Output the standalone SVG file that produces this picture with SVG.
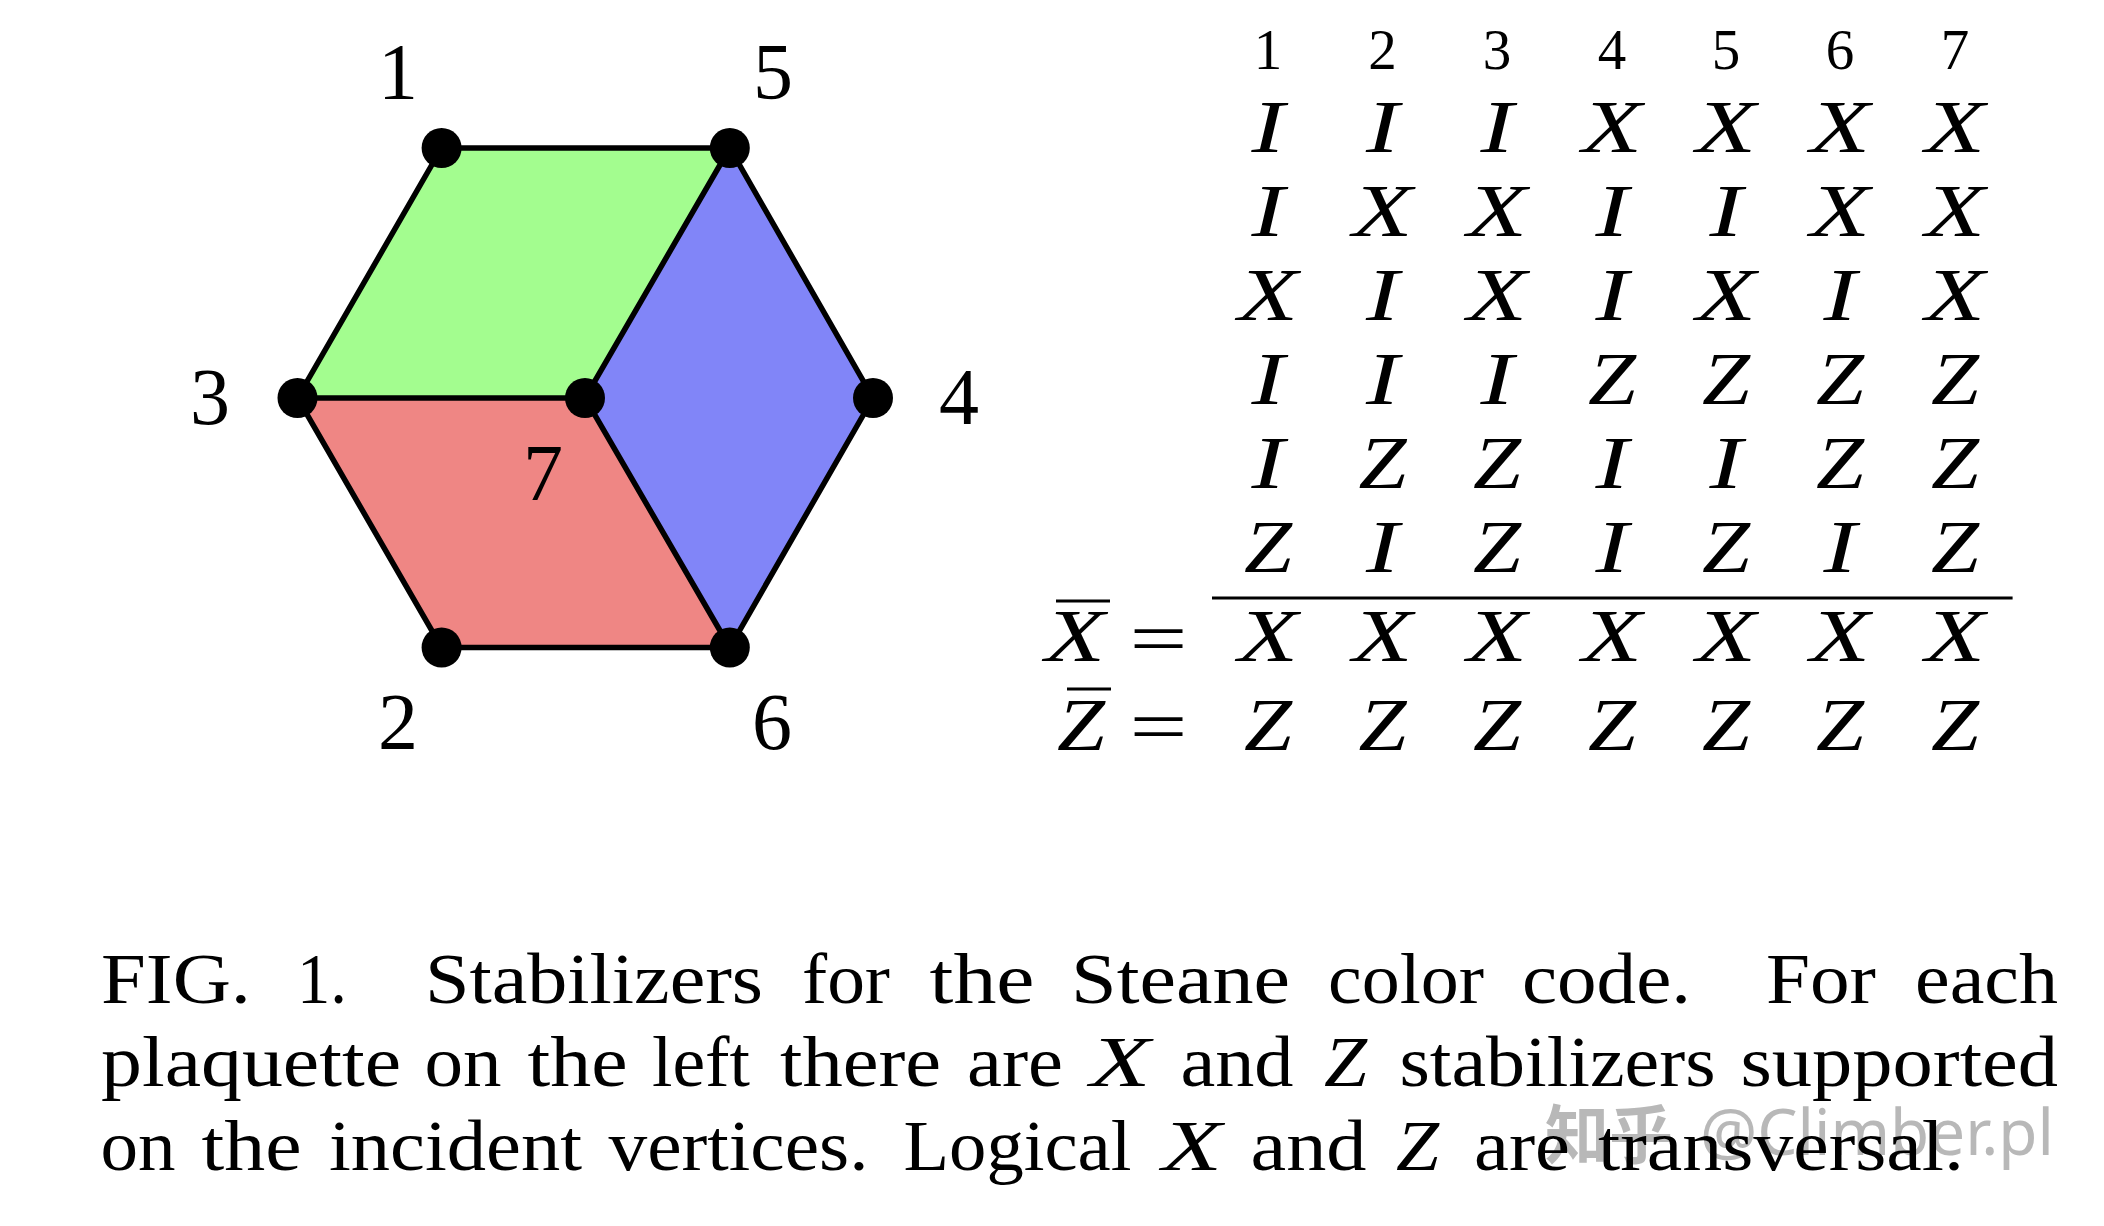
<svg xmlns="http://www.w3.org/2000/svg" width="2104" height="1226" viewBox="0 0 2104 1226">
<style>
text{font-family:"Liberation Serif","Noto Sans CJK SC",serif;fill:#000}
.lab{font-size:80px;text-anchor:middle}
.hd{font-size:57px;text-anchor:middle}
.m{font-size:73px;font-style:italic;text-anchor:middle}
.eq{font-size:73px;text-anchor:middle}
.cap{font-size:72px}
.em{font-style:italic}
.edge{stroke:#000;stroke-width:5.5;fill:none;stroke-linecap:round}
.rule{stroke:#000;stroke-width:3;fill:none}
.wm{font-family:"Noto Sans","Noto Sans CJK SC",sans-serif;font-size:64px;fill:#b8b8b8}
</style>
<rect width="2104" height="1226" fill="#fff"/>
<g id="faces">
<polygon points="441.6,148 729.8,148 585,398 297.5,398" fill="#a3fd8f"/>
<polygon points="729.8,148 873,398 729.8,647.5 585,398" fill="#8185f8"/>
<polygon points="297.5,398 585,398 729.8,647.5 441.6,647.5" fill="#ef8684"/>
</g>
<g id="connectors">
<path class="edge" d="M441.6 148H729.8L873 398L729.8 647.5H441.6L297.5 398Z"/>
<path class="edge" d="M297.5 398H585M729.8 148L585 398L729.8 647.5"/>
</g>
<g id="n1"><circle cx="441.6" cy="148" r="20"/><text class="lab" x="398" y="98.5">1</text></g>
<g id="n2"><circle cx="441.6" cy="647.5" r="20"/><text class="lab" x="398" y="748.5">2</text></g>
<g id="n3"><circle cx="297.5" cy="398" r="20"/><text class="lab" x="210" y="423.5">3</text></g>
<g id="n4"><circle cx="873" cy="398" r="20"/><text class="lab" x="959" y="423.5">4</text></g>
<g id="n5"><circle cx="729.8" cy="148" r="20"/><text class="lab" x="773" y="98.5">5</text></g>
<g id="n6"><circle cx="729.8" cy="647.5" r="20"/><text class="lab" x="772" y="748.5">6</text></g>
<g id="n7"><circle cx="585" cy="398" r="20"/><text class="lab" x="543" y="500">7</text></g>
<g id="table">
<text class="hd" x="1268" y="69">1</text><text class="hd" x="1382.5" y="69">2</text><text class="hd" x="1497" y="69">3</text><text class="hd" x="1612" y="69">4</text><text class="hd" x="1726" y="69">5</text><text class="hd" x="1840" y="69">6</text><text class="hd" x="1955" y="69">7</text>
<text class="m" x="1268" y="152" textLength="33" lengthAdjust="spacingAndGlyphs">I</text><text class="m" x="1382.5" y="152" textLength="33" lengthAdjust="spacingAndGlyphs">I</text><text class="m" x="1497" y="152" textLength="33" lengthAdjust="spacingAndGlyphs">I</text><text class="m" x="1612" y="152" textLength="60" lengthAdjust="spacingAndGlyphs">X</text><text class="m" x="1726" y="152" textLength="60" lengthAdjust="spacingAndGlyphs">X</text><text class="m" x="1840" y="152" textLength="60" lengthAdjust="spacingAndGlyphs">X</text><text class="m" x="1955" y="152" textLength="60" lengthAdjust="spacingAndGlyphs">X</text>
<text class="m" x="1268" y="236" textLength="33" lengthAdjust="spacingAndGlyphs">I</text><text class="m" x="1382.5" y="236" textLength="60" lengthAdjust="spacingAndGlyphs">X</text><text class="m" x="1497" y="236" textLength="60" lengthAdjust="spacingAndGlyphs">X</text><text class="m" x="1612" y="236" textLength="33" lengthAdjust="spacingAndGlyphs">I</text><text class="m" x="1726" y="236" textLength="33" lengthAdjust="spacingAndGlyphs">I</text><text class="m" x="1840" y="236" textLength="60" lengthAdjust="spacingAndGlyphs">X</text><text class="m" x="1955" y="236" textLength="60" lengthAdjust="spacingAndGlyphs">X</text>
<text class="m" x="1268" y="320" textLength="60" lengthAdjust="spacingAndGlyphs">X</text><text class="m" x="1382.5" y="320" textLength="33" lengthAdjust="spacingAndGlyphs">I</text><text class="m" x="1497" y="320" textLength="60" lengthAdjust="spacingAndGlyphs">X</text><text class="m" x="1612" y="320" textLength="33" lengthAdjust="spacingAndGlyphs">I</text><text class="m" x="1726" y="320" textLength="60" lengthAdjust="spacingAndGlyphs">X</text><text class="m" x="1840" y="320" textLength="33" lengthAdjust="spacingAndGlyphs">I</text><text class="m" x="1955" y="320" textLength="60" lengthAdjust="spacingAndGlyphs">X</text>
<text class="m" x="1268" y="404" textLength="33" lengthAdjust="spacingAndGlyphs">I</text><text class="m" x="1382.5" y="404" textLength="33" lengthAdjust="spacingAndGlyphs">I</text><text class="m" x="1497" y="404" textLength="33" lengthAdjust="spacingAndGlyphs">I</text><text class="m" x="1612" y="404" textLength="48" lengthAdjust="spacingAndGlyphs">Z</text><text class="m" x="1726" y="404" textLength="48" lengthAdjust="spacingAndGlyphs">Z</text><text class="m" x="1840" y="404" textLength="48" lengthAdjust="spacingAndGlyphs">Z</text><text class="m" x="1955" y="404" textLength="48" lengthAdjust="spacingAndGlyphs">Z</text>
<text class="m" x="1268" y="487.5" textLength="33" lengthAdjust="spacingAndGlyphs">I</text><text class="m" x="1382.5" y="487.5" textLength="48" lengthAdjust="spacingAndGlyphs">Z</text><text class="m" x="1497" y="487.5" textLength="48" lengthAdjust="spacingAndGlyphs">Z</text><text class="m" x="1612" y="487.5" textLength="33" lengthAdjust="spacingAndGlyphs">I</text><text class="m" x="1726" y="487.5" textLength="33" lengthAdjust="spacingAndGlyphs">I</text><text class="m" x="1840" y="487.5" textLength="48" lengthAdjust="spacingAndGlyphs">Z</text><text class="m" x="1955" y="487.5" textLength="48" lengthAdjust="spacingAndGlyphs">Z</text>
<text class="m" x="1268" y="571.5" textLength="48" lengthAdjust="spacingAndGlyphs">Z</text><text class="m" x="1382.5" y="571.5" textLength="33" lengthAdjust="spacingAndGlyphs">I</text><text class="m" x="1497" y="571.5" textLength="48" lengthAdjust="spacingAndGlyphs">Z</text><text class="m" x="1612" y="571.5" textLength="33" lengthAdjust="spacingAndGlyphs">I</text><text class="m" x="1726" y="571.5" textLength="48" lengthAdjust="spacingAndGlyphs">Z</text><text class="m" x="1840" y="571.5" textLength="33" lengthAdjust="spacingAndGlyphs">I</text><text class="m" x="1955" y="571.5" textLength="48" lengthAdjust="spacingAndGlyphs">Z</text>
<line class="rule" x1="1212" y1="598" x2="2012.6" y2="598"/>
<text class="m" x="1268" y="661" textLength="60" lengthAdjust="spacingAndGlyphs">X</text><text class="m" x="1382.5" y="661" textLength="60" lengthAdjust="spacingAndGlyphs">X</text><text class="m" x="1497" y="661" textLength="60" lengthAdjust="spacingAndGlyphs">X</text><text class="m" x="1612" y="661" textLength="60" lengthAdjust="spacingAndGlyphs">X</text><text class="m" x="1726" y="661" textLength="60" lengthAdjust="spacingAndGlyphs">X</text><text class="m" x="1840" y="661" textLength="60" lengthAdjust="spacingAndGlyphs">X</text><text class="m" x="1955" y="661" textLength="60" lengthAdjust="spacingAndGlyphs">X</text>
<text class="m" x="1268" y="750" textLength="48" lengthAdjust="spacingAndGlyphs">Z</text><text class="m" x="1382.5" y="750" textLength="48" lengthAdjust="spacingAndGlyphs">Z</text><text class="m" x="1497" y="750" textLength="48" lengthAdjust="spacingAndGlyphs">Z</text><text class="m" x="1612" y="750" textLength="48" lengthAdjust="spacingAndGlyphs">Z</text><text class="m" x="1726" y="750" textLength="48" lengthAdjust="spacingAndGlyphs">Z</text><text class="m" x="1840" y="750" textLength="48" lengthAdjust="spacingAndGlyphs">Z</text><text class="m" x="1955" y="750" textLength="48" lengthAdjust="spacingAndGlyphs">Z</text>
<text class="m" x="1075" y="661" textLength="60" lengthAdjust="spacingAndGlyphs">X</text>
<line class="rule" x1="1056" y1="601" x2="1110" y2="601"/>
<text class="eq" x="1158.6" y="663" textLength="58" lengthAdjust="spacingAndGlyphs">=</text>
<text class="m" x="1081" y="750" textLength="48" lengthAdjust="spacingAndGlyphs">Z</text>
<line class="rule" x1="1067" y1="689" x2="1111" y2="689"/>
<text class="eq" x="1158.6" y="751" textLength="58" lengthAdjust="spacingAndGlyphs">=</text>
</g>
<g id="watermark">
<text class="wm" x="1545" y="1158" textLength="128" lengthAdjust="spacingAndGlyphs" font-weight="700">知乎</text>
<text class="wm" x="1700" y="1155" textLength="354" lengthAdjust="spacingAndGlyphs">@Climber.pl</text>
</g>
<g id="caption">
<text class="cap" y="1003"><tspan x="101" textLength="150" lengthAdjust="spacingAndGlyphs">FIG.</tspan> <tspan x="297" textLength="50" lengthAdjust="spacingAndGlyphs">1.</tspan> <tspan x="425" textLength="338" lengthAdjust="spacingAndGlyphs">Stabilizers</tspan> <tspan x="802" textLength="88" lengthAdjust="spacingAndGlyphs">for</tspan> <tspan x="929.5" textLength="105" lengthAdjust="spacingAndGlyphs">the</tspan> <tspan x="1071" textLength="219" lengthAdjust="spacingAndGlyphs">Steane</tspan> <tspan x="1328" textLength="156" lengthAdjust="spacingAndGlyphs">color</tspan> <tspan x="1522" textLength="169" lengthAdjust="spacingAndGlyphs">code.</tspan> <tspan x="1766" textLength="110" lengthAdjust="spacingAndGlyphs">For</tspan> <tspan x="1915" textLength="143" lengthAdjust="spacingAndGlyphs">each</tspan></text>
<text class="cap" y="1086"><tspan x="101" textLength="300" lengthAdjust="spacingAndGlyphs">plaquette</tspan> <tspan x="424.5" textLength="77" lengthAdjust="spacingAndGlyphs">on</tspan> <tspan x="527.5" textLength="100" lengthAdjust="spacingAndGlyphs">the</tspan> <tspan x="652" textLength="98" lengthAdjust="spacingAndGlyphs">left</tspan> <tspan x="780" textLength="161" lengthAdjust="spacingAndGlyphs">there</tspan> <tspan x="967" textLength="96" lengthAdjust="spacingAndGlyphs">are</tspan> <tspan class="em" x="1090" textLength="60.5" lengthAdjust="spacingAndGlyphs">X</tspan> <tspan x="1180.5" textLength="113" lengthAdjust="spacingAndGlyphs">and</tspan> <tspan class="em" x="1324" textLength="43" lengthAdjust="spacingAndGlyphs">Z</tspan> <tspan x="1399.5" textLength="316" lengthAdjust="spacingAndGlyphs">stabilizers</tspan> <tspan x="1740.5" textLength="317.5" lengthAdjust="spacingAndGlyphs">supported</tspan></text>
<text class="cap" y="1170"><tspan x="100.5" textLength="75" lengthAdjust="spacingAndGlyphs">on</tspan> <tspan x="201.5" textLength="100" lengthAdjust="spacingAndGlyphs">the</tspan> <tspan x="329" textLength="253" lengthAdjust="spacingAndGlyphs">incident</tspan> <tspan x="608.5" textLength="260" lengthAdjust="spacingAndGlyphs">vertices.</tspan> <tspan x="903.5" textLength="228" lengthAdjust="spacingAndGlyphs">Logical</tspan> <tspan class="em" x="1162" textLength="60" lengthAdjust="spacingAndGlyphs">X</tspan> <tspan x="1250.5" textLength="116" lengthAdjust="spacingAndGlyphs">and</tspan> <tspan class="em" x="1396" textLength="43" lengthAdjust="spacingAndGlyphs">Z</tspan> <tspan x="1474" textLength="96" lengthAdjust="spacingAndGlyphs">are</tspan> <tspan x="1598" textLength="366" lengthAdjust="spacingAndGlyphs">transversal.</tspan></text>
</g>
</svg>
